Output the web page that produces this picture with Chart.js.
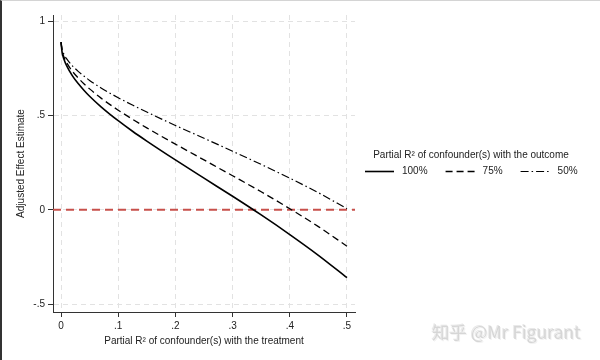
<!DOCTYPE html>
<html><head><meta charset="utf-8">
<script src="https://cdn.jsdelivr.net/npm/chart.js@4.4.1/dist/chart.umd.min.js"></script>
<style>
html,body{margin:0;padding:0;background:#fff;}
#wrap{position:relative;width:600px;height:360px;overflow:hidden;}
#frame{position:absolute;left:0;top:0;width:600px;height:360px;box-sizing:border-box;border-left:2px solid #333;border-top:1px solid #d4d4d4;pointer-events:none;}
#wm{position:absolute;left:432px;top:319px;font:17.5px "Noto Sans CJK SC",sans-serif;color:#d6d6d6;text-shadow:1px 1px 0 #f2f2f2, -1px -1px 0 #e9e9e9;white-space:nowrap;}
</style></head><body>
<div id="wrap"><canvas id="c" width="600" height="360"></canvas><div id="frame"></div><div id="wm">知乎 @Mr Figurant</div></div>
<script>
// Partial R2 of confounder(s) with the treatment
const xValues   = [0, 0.002, 0.005, 0.01, 0.02, 0.03, 0.04, 0.05, 0.07, 0.1, 0.125, 0.15, 0.2, 0.25, 0.3, 0.35, 0.4, 0.45, 0.5];
// Adjusted effect estimate, by partial R2 of confounder(s) with the outcome
const effect100 = [0.890, 0.834, 0.801, 0.764, 0.711, 0.670, 0.635, 0.603, 0.547, 0.473, 0.417, 0.365, 0.265, 0.168, 0.072, -0.027, -0.131, -0.241, -0.360];
const effect75  = [0.890, 0.842, 0.813, 0.781, 0.735, 0.700, 0.669, 0.642, 0.593, 0.529, 0.481, 0.435, 0.349, 0.265, 0.181, 0.096, 0.006, -0.089, -0.193];
const effect50  = [0.890, 0.850, 0.827, 0.801, 0.764, 0.735, 0.710, 0.687, 0.647, 0.595, 0.556, 0.519, 0.448, 0.380, 0.311, 0.241, 0.168, 0.091, 0.006];
const seriesLabels = ['100%', '75%', '50%'];
const refValue = 0;
const xTicks = [0, 0.1, 0.2, 0.3, 0.4, 0.5];
const xTickLabels = ['0', '.1', '.2', '.3', '.4', '.5'];
const yTicks = [1, 0.5, 0, -0.5];
const yTickLabels = ['1', '.5', '0', '-.5'];
const xRange = [-0.014, 0.514];
const yRange = [-0.542, 1.034];
const xTitle = 'Partial R² of confounder(s) with the treatment';
const yTitle = 'Adjusted Effect Estimate';
const legendTitle = 'Partial R² of confounder(s) with the outcome';

const FONT = '"Liberation Sans", Arial, sans-serif';
const toPts = (ys) => xValues.map((x, i) => ({x: x, y: ys[i]}));

const legendPlugin = {
  id: 'stataLegend',
  afterDraw(chart) {
    const ctx = chart.ctx;
    const area = chart.chartArea;
    ctx.save();
    ctx.font = '10px ' + FONT;
    ctx.fillStyle = '#222';
    ctx.textBaseline = 'middle';
    ctx.textAlign = 'center';
    ctx.fillText(legendTitle, area.right + 116, 155);
    ctx.textAlign = 'left';
    let x = area.right + 10;
    const y = 171;
    for (let i = 0; i < 3; i++) {
      const ds = chart.data.datasets[i];
      ctx.save();
      ctx.strokeStyle = ds.borderColor;
      ctx.lineWidth = ds.borderWidth;
      ctx.setLineDash(ds.borderDash || []);
      ctx.beginPath();
      ctx.moveTo(x, y + 0.5);
      ctx.lineTo(x + 29, y + 0.5);
      ctx.stroke();
      ctx.restore();
      ctx.fillText(ds.label, x + 37, y);
      x += 37 + ctx.measureText(ds.label).width + 18;
    }
    ctx.restore();
  }
};

new Chart(document.getElementById('c'), {
  type: 'line',
  data: {
    datasets: [
      {label: seriesLabels[0], data: toPts(effect100), borderColor: '#000', borderWidth: 1.6, borderDash: [], pointRadius: 0, cubicInterpolationMode: 'monotone', fill: false},
      {label: seriesLabels[1], data: toPts(effect75), borderColor: '#000', borderWidth: 1.3, borderDash: [7, 4], pointRadius: 0, cubicInterpolationMode: 'monotone', fill: false},
      {label: seriesLabels[2], data: toPts(effect50), borderColor: '#000', borderWidth: 1.2, borderDash: [8, 3, 1.5, 3], pointRadius: 0, cubicInterpolationMode: 'monotone', fill: false},
      {label: 'ref', data: xRange.map(x => ({x: x, y: refValue})), borderColor: '#c8504b', borderWidth: 2, borderDash: [8, 5], pointRadius: 0, fill: false}
    ]
  },
  options: {
    responsive: false,
    animation: false,
    layout: {padding: {left: 0, right: 245, top: 15, bottom: 0}},
    plugins: {legend: {display: false}, tooltip: {enabled: false}},
    scales: {
      x: {
        type: 'linear', min: xRange[0], max: xRange[1],
        afterBuildTicks: (s) => { s.ticks = xTicks.map(v => ({value: v})); },
        afterFit: (s) => { s.height = 48; },
        ticks: {callback: (v, i) => xTickLabels[i], color: '#222', font: {size: 10, family: FONT}, padding: 3, maxRotation: 0, autoSkip: false},
        grid: {color: '#e2e2e2', lineWidth: 1, tickColor: '#333', tickLength: 5, drawTicks: true},
        border: {display: true, color: '#333', width: 1, dash: [5, 4]},
        title: {display: true, text: xTitle, color: '#222', font: {size: 10, family: FONT}, padding: {top: 0, bottom: 13}}
      },
      y: {
        type: 'linear', min: yRange[0], max: yRange[1],
        afterBuildTicks: (s) => { s.ticks = yTicks.map(v => ({value: v})); },
        afterFit: (s) => { s.width = 53; },
        ticks: {callback: (v, i) => yTickLabels[i], color: '#222', font: {size: 10, family: FONT}, padding: 3, autoSkip: false},
        grid: {color: '#e2e2e2', lineWidth: 1, tickColor: '#333', tickLength: 5, drawTicks: true},
        border: {display: true, color: '#333', width: 1, dash: [5, 4]},
        title: {display: true, text: yTitle, color: '#222', font: {size: 10, family: FONT}, padding: {top: 15, bottom: 0}}
      }
    }
  },
  plugins: [legendPlugin]
});
</script>
</body></html>
